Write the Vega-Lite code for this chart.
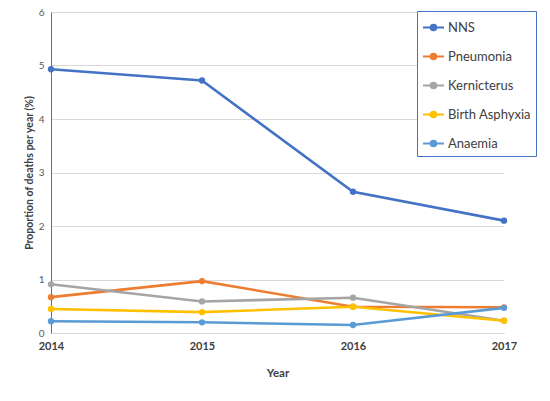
{
  "$schema": "https://vega.github.io/schema/vega-lite/v6.json",
  "width": 453,
  "height": 321,
  "autosize": {"type": "none"},
  "padding": {"left": 51, "top": 12, "right": 46, "bottom": 68},
  "background": "white",
  "config": {
    "font": "Lato",
    "view": {"stroke": null},
    "axis": {"labelColor": "#595959", "titleColor": "#595959", "ticks": false}
  },
  "data": {
    "values": [
      {"Year": "2014", "cause": "NNS", "value": 4.93},
      {"Year": "2015", "cause": "NNS", "value": 4.72},
      {"Year": "2016", "cause": "NNS", "value": 2.64},
      {"Year": "2017", "cause": "NNS", "value": 2.10},
      {"Year": "2014", "cause": "Pneumonia", "value": 0.67},
      {"Year": "2015", "cause": "Pneumonia", "value": 0.97},
      {"Year": "2016", "cause": "Pneumonia", "value": 0.49},
      {"Year": "2017", "cause": "Pneumonia", "value": 0.48},
      {"Year": "2014", "cause": "Kernicterus", "value": 0.91},
      {"Year": "2015", "cause": "Kernicterus", "value": 0.59},
      {"Year": "2016", "cause": "Kernicterus", "value": 0.66},
      {"Year": "2017", "cause": "Kernicterus", "value": 0.23},
      {"Year": "2014", "cause": "Birth Asphyxia", "value": 0.45},
      {"Year": "2015", "cause": "Birth Asphyxia", "value": 0.39},
      {"Year": "2016", "cause": "Birth Asphyxia", "value": 0.49},
      {"Year": "2017", "cause": "Birth Asphyxia", "value": 0.23},
      {"Year": "2014", "cause": "Anaemia", "value": 0.22},
      {"Year": "2015", "cause": "Anaemia", "value": 0.20},
      {"Year": "2016", "cause": "Anaemia", "value": 0.15},
      {"Year": "2017", "cause": "Anaemia", "value": 0.47}
    ]
  },
  "mark": {"type": "line", "strokeWidth": 2.6, "point": {"size": 40, "filled": true}},
  "encoding": {
    "x": {
      "field": "Year",
      "type": "ordinal",
      "scale": {"type": "point", "padding": 0},
      "axis": {
        "labelAngle": 0,
        "labelFontWeight": "bold",
        "labelFontSize": 11,
        "labelColor": "#404040",
        "labelPadding": 7,
        "domainColor": "#d9d9d9",
        "title": "Year",
        "titleFontSize": 11.5,
        "titleFontWeight": "bold",
        "titleColor": "#404040",
        "titlePadding": 16
      }
    },
    "y": {
      "field": "value",
      "type": "quantitative",
      "scale": {"domain": [0, 6]},
      "axis": {
        "values": [0, 1, 2, 3, 4, 5, 6],
        "labelFontSize": 10,
        "labelPadding": 7,
        "gridColor": "#d9d9d9",
        "domainColor": "#4472C4",
        "title": "Proportion of deaths per year (%)",
        "titleFontSize": 10.5,
        "titleFontWeight": "bold",
        "titleColor": "#404040",
        "titlePadding": 4
      }
    },
    "color": {
      "field": "cause",
      "type": "nominal",
      "scale": {
        "domain": ["NNS", "Pneumonia", "Kernicterus", "Birth Asphyxia", "Anaemia"],
        "range": ["#4472C4", "#ED7D31", "#A5A5A5", "#FFC000", "#5B9BD5"]
      },
      "legend": {
        "title": null,
        "orient": "none",
        "legendX": 366,
        "legendY": -1,
        "strokeColor": "#4472C4",
        "fillColor": "white",
        "padding": 5,
        "rowPadding": 10,
        "labelFontSize": 13,
        "labelColor": "#404040",
        "labelOffset": 3,
        "symbolSize": 441,
        "symbolStrokeWidth": 2,
        "symbolType": "M-1,0L1,0M-0.27,0A0.27,0.27 0 1,0 0.27,0A0.27,0.27 0 1,0 -0.27,0Z",
        "encode": {"symbols": {"update": {"fill": {"scale": "color", "field": "value"}}}}
      }
    }
  }
}
